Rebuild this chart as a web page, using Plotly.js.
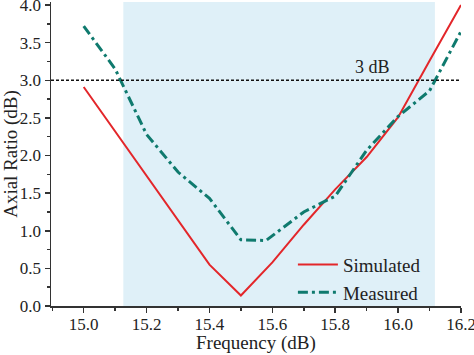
<!DOCTYPE html>
<html>
<head>
<meta charset="utf-8">
<script src="https://cdn.plot.ly/plotly-3.0.1.min.js"></script>
<style>html,body{margin:0;padding:0;background:#fff;}#chart{width:474px;height:355px;}</style>
</head>
<body>
<div id="chart"></div>
<script>
// Data
const freqSim = [15.0, 15.1, 15.2, 15.3, 15.4, 15.5, 15.6, 15.7, 15.8, 15.9, 16.0, 16.1, 16.2];
const arSim   = [2.91, 2.32, 1.73, 1.14, 0.55, 0.14, 0.58, 1.08, 1.55, 1.98, 2.51, 3.26, 4.0];
const freqMeas = [15.0, 15.1, 15.2, 15.3, 15.4, 15.5, 15.58, 15.7, 15.8, 15.9, 16.0, 16.1, 16.2];
const arMeas   = [3.72, 3.15, 2.28, 1.78, 1.43, 0.88, 0.87, 1.25, 1.46, 2.07, 2.52, 2.86, 3.65];
const bandEdges = [15.126, 16.117];
const threshold = 3.0;
const thresholdLabel = '3 dB';
const seriesNames = ['Simulated', 'Measured'];
const xTitle = 'Frequency (dB)';
const yTitle = 'Axial Ratio (dB)';

const FONT = 'Liberation Serif, Times New Roman, serif';

const traces = [
  {x: freqSim, y: arSim, name: seriesNames[0], type: 'scatter', mode: 'lines',
   line: {color: '#E3262A', width: 2}},
  {x: freqMeas, y: arMeas, name: seriesNames[1], type: 'scatter', mode: 'lines',
   line: {color: '#0F7A6E', width: 3, dash: '10px,4px,3px,4px'}}
];

const axisCommon = {
  showline: true, linecolor: '#333', linewidth: 1.5, mirror: false,
  showgrid: false, zeroline: false, ticks: 'outside', ticklen: 5, tickwidth: 1.5, tickcolor: '#333',
  tickfont: {family: FONT, size: 17, color: '#222'}, tickformat: '.1f',
  ticklabeloverflow: 'allow'
};

const layout = {
  width: 474, height: 355,
  margin: {l: 51, r: 13, t: 2, b: 49},
  paper_bgcolor: '#fff', plot_bgcolor: '#fff',
  font: {family: FONT, color: '#222'},
  xaxis: Object.assign({}, axisCommon, {
    range: [14.896, 16.2], tick0: 15, dtick: 0.2, ticklabelstandoff: -3,
    minor: {dtick: 0.1, ticks: 'outside', ticklen: 3, tickwidth: 1.5, tickcolor: '#333'}
  }),
  yaxis: Object.assign({}, axisCommon, {
    range: [0, 4.04], tick0: 0, dtick: 0.5,
    minor: {dtick: 0.25, ticks: 'outside', ticklen: 3, tickwidth: 1.5, tickcolor: '#333'},
    title: {text: yTitle, font: {family: FONT, size: 19, color: '#222'}, standoff: 0}
  }),
  showlegend: true,
  legend: {x: 0.59, y: 0.09, xanchor: 'left', yanchor: 'middle', bgcolor: 'rgba(0,0,0,0)',
    font: {family: FONT, size: 19, color: '#222'}, itemwidth: 40, tracegroupgap: 0},
  shapes: [
    {type: 'rect', xref: 'x', yref: 'paper', x0: bandEdges[0], x1: bandEdges[1], y0: 0, y1: 1,
     fillcolor: '#DFF0F8', line: {width: 0}, layer: 'below'},
    {type: 'line', xref: 'paper', yref: 'y', x0: 0, x1: 1, y0: threshold, y1: threshold,
     line: {color: '#111', width: 1.5, dash: '3px,2px'}}
  ],
  annotations: [
    {x: 15.92, y: threshold, xref: 'x', yref: 'y', text: thresholdLabel, showarrow: false,
     yanchor: 'bottom', yshift: 1, font: {family: FONT, size: 18, color: '#222'}},
    {x: 0.5, y: 0, xref: 'paper', yref: 'paper', text: xTitle, showarrow: false,
     xanchor: 'center', yanchor: 'middle', yshift: -37, font: {family: FONT, size: 19, color: '#222'}}
  ]
};

Plotly.newPlot('chart', traces, layout, {displayModeBar: false, staticPlot: true});
</script>
</body>
</html>
